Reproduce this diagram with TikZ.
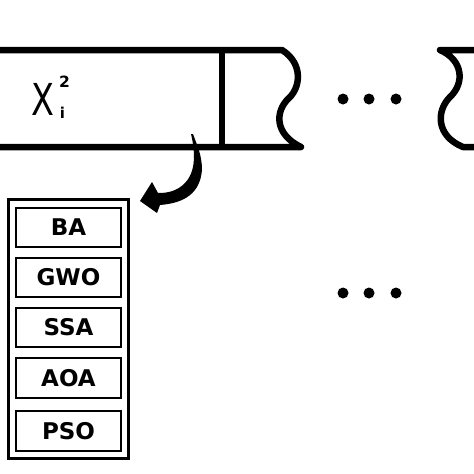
\documentclass[tikz,border=0pt]{standalone}
\usepackage{fontspec}
\setmainfont{DejaVu Sans}
\newfontfamily\osans{Open Sans}
\begin{document}
\begin{tikzpicture}[x=1pt,y=-1pt,
  band/.style={line width=6.5pt,line join=round,line cap=butt},
  algbox/.style={draw,line width=1.8pt,minimum width=105pt,inner sep=0pt,
    font=\fontsize{23}{23}\selectfont\bfseries},
  stackbox/.style={draw,line width=3pt,minimum width=120pt,minimum height=259pt,inner sep=0pt},
  dot/.style={circle,fill,inner sep=0pt,minimum size=11pt}]
\useasboundingbox (0,0) rectangle (474,474);
% first band
\draw[band] (-5,50) -- (282,50) .. controls (304,64) and (300,88) .. (289,98)
  .. controls (275,111) and (274,134) .. (301,147) -- (-5,147);
\draw[band] (222,50) -- (222,147);
% second band
\draw[band] (480,147) -- (463,147) .. controls (436,136) and (436,111) .. (450,97)
  .. controls (465,83) and (463,60) .. (440,50) -- (480,50);
% label
\node (x) at (42.5,99) {\fontsize{44}{44}\selectfont\scalebox{0.76}[1]{X}};
\node (xsup) at (64.5,82) {\bfseries\fontsize{15.5}{16}\selectfont 2};
\node (xsub) at (62.5,112.5) {\bfseries\fontsize{15}{15}\selectfont i};
% dots
\node[dot] (d1) at (343,99) {};
\node[dot] (d2) at (369,99) {};
\node[dot] (d3) at (396,99) {};
\node[dot] (e1) at (343,293) {};
\node[dot] (e2) at (369,293) {};
\node[dot] (e3) at (396,293) {};
% stack
\node[stackbox] (stack) at (68,328.5) {};
\node[algbox,minimum height=39pt] (ba) at (68.5,227.5) {BA};
\node[algbox,minimum height=39pt] (gwo) at (68.5,277.5) {GWO};
\node[algbox,minimum height=39pt] (ssa) at (68.5,327.5) {SSA};
\node[algbox,minimum height=40pt] (aoa) at (68.5,378) {AOA};
\node[algbox,minimum height=40pt] (pso) at (68.5,431) {PSO};
% curved tapered arrow
\coordinate (astart) at (192,134);
\coordinate (atip) at (140,201);
\fill (astart) ++(-1,0) .. controls (196,155) and (197,180) .. (175,190)
  .. controls (168,193) and (162,193) .. (158,193) -- (152,182) -- (atip)
  -- (157,213) -- (160,205) .. controls (185,203) and (200,193) .. (202,170)
  .. controls (202,155) and (197,145) .. (193,134) -- cycle;
\end{tikzpicture}
\end{document}
